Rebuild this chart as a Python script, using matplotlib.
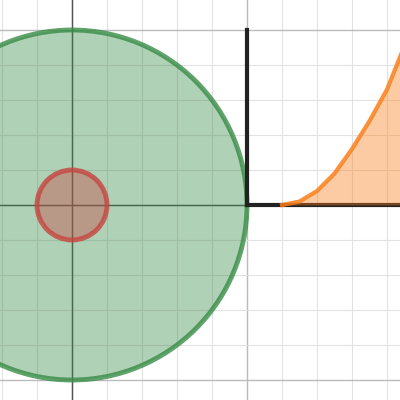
import matplotlib
matplotlib.use("Agg")
import matplotlib.pyplot as plt
import numpy as np

curve_x = [6.0, 6.5, 7.0, 7.5, 8.0, 8.5, 9.0, 9.4]
curve_y = [0.0, 0.1, 0.4, 0.9, 1.6, 2.4, 3.3, 4.3]
big_r = 5.0
small_r = 1.0

fig = plt.figure(figsize=(4, 4), dpi=100)
ax = fig.add_axes([0, 0, 1, 1])
xmin, xmax = -72/35, 328/35
ymin, ymax = -195/35, 205/35
ax.set_xlim(xmin, xmax); ax.set_ylim(ymin, ymax)
ax.axis('off')
for v in range(-3, 11):
    c, lw = ('#bbbbbb', 1.0) if v % 5 == 0 else ('#e2e2e2', 0.8)
    ax.axvline(v, color=c, lw=lw, zorder=0)
for v in range(-6, 7):
    c, lw = ('#bbbbbb', 1.0) if v % 5 == 0 else ('#e2e2e2', 0.8)
    ax.axhline(v, color=c, lw=lw, zorder=0)
ax.axvline(0, color='#555555', lw=1.0, zorder=1)
ax.axhline(0, color='#555555', lw=1.0, zorder=1)

ax.add_patch(plt.Circle((0, 0), big_r, facecolor='#388c46', alpha=0.4, edgecolor='none', zorder=2))
ax.add_patch(plt.Circle((0, 0), big_r, facecolor='none', edgecolor='#388c46', alpha=0.8, lw=3.5, zorder=3))
ax.add_patch(plt.Circle((0, 0), small_r, facecolor='#c74440', alpha=0.4, edgecolor='none', zorder=4))
ax.add_patch(plt.Circle((0, 0), small_r, facecolor='none', edgecolor='#c74440', alpha=0.8, lw=3.5, zorder=5))

ax.plot([5, 5], [0, 5], color='#222222', lw=3, zorder=6)
ax.plot([5, xmax + 1], [0, 0], color='#222222', lw=3, zorder=6)
ax.fill_between(curve_x, curve_y, 0, color='#fa7e19', alpha=0.4, lw=0, zorder=6)
ax.plot(curve_x, curve_y, color='#fa7e19', alpha=0.85, lw=3, zorder=7)

fig.savefig("out.png", dpi=100)
